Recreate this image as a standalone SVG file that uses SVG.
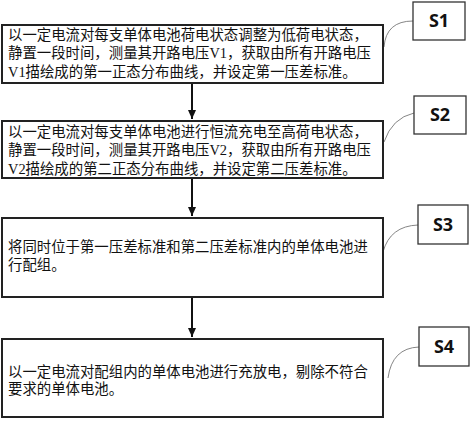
<svg xmlns="http://www.w3.org/2000/svg" width="474" height="424" viewBox="0 0 474 424">
<defs>
<style>
.box{fill:#fff;stroke:#222;stroke-width:2}
.lbl{fill:#fff;stroke:#333;stroke-width:1.3}
.t{font-family:"Liberation Serif","Noto Sans CJK SC",serif;font-size:14.4px;fill:#111}
.s{font-family:"Open Sans","Liberation Sans",sans-serif;font-size:18px;font-weight:bold;fill:#111;text-anchor:middle}
.ar{stroke:#111;stroke-width:2;fill:none}
.cv{stroke:#777;stroke-width:0.9;fill:none}
</style>
<marker id="ah" markerWidth="10" markerHeight="10" refX="9" refY="5" orient="auto" markerUnits="userSpaceOnUse">
<path d="M0,1 L9,5 L0,9 Z" fill="#111"/>
</marker>
</defs>
<rect width="474" height="424" fill="#fff"/>
<g id="connectors">
<line class="ar" x1="192" y1="83" x2="192" y2="119" marker-end="url(#ah)"/>
<line class="ar" x1="192" y1="178" x2="192" y2="216" marker-end="url(#ah)"/>
<line class="ar" x1="192" y1="297" x2="192" y2="337" marker-end="url(#ah)"/>
<path class="cv" d="M384,47 Q386,21 413,21"/>
<path class="cv" d="M384,142 Q392,118 414,113"/>
<path class="cv" d="M383,252 Q390,226 418,225"/>
<path class="cv" d="M388,378 Q392,348 419,347"/>
</g>
<g id="box1">
<rect class="box" x="2" y="25" width="381" height="58"/>
<text class="t" x="8" y="40">以一定电流对每支单体电池荷电状态调整为低荷电状态，</text>
<text class="t" x="8" y="58">静置一段时间，测量其开路电压V1，获取由所有开路电压</text>
<text class="t" x="8" y="77">V1描绘成的第一正态分布曲线，并设定第一压差标准。</text>
</g>
<g id="box2">
<rect class="box" x="2" y="121" width="381" height="57"/>
<text class="t" x="8" y="137">以一定电流对每支单体电池进行恒流充电至高荷电状态，</text>
<text class="t" x="8" y="155">静置一段时间，测量其开路电压V2，获取由所有开路电压</text>
<text class="t" x="8" y="173.5">V2描绘成的第二正态分布曲线，并设定第二压差标准。</text>
</g>
<g id="box3">
<rect class="box" x="2" y="218" width="381" height="79"/>
<text class="t" x="8" y="252">将同时位于第一压差标准和第二压差标准内的单体电池进</text>
<text class="t" x="8" y="270">行配组。</text>
</g>
<g id="box4">
<rect class="box" x="2" y="339" width="381" height="78"/>
<text class="t" x="8" y="377">以一定电流对配组内的单体电池进行充放电，剔除不符合</text>
<text class="t" x="8" y="394">要求的单体电池。</text>
</g>
<g id="S1">
<rect class="lbl" x="413" y="2" width="52" height="38"/>
<text class="s" x="439" y="27">S1</text>
</g>
<g id="S2">
<rect class="lbl" x="414" y="96" width="52" height="38"/>
<text class="s" x="440" y="121">S2</text>
</g>
<g id="S3">
<rect class="lbl" x="418" y="205" width="50" height="39"/>
<text class="s" x="443" y="231">S3</text>
</g>
<g id="S4">
<rect class="lbl" x="419" y="327" width="50" height="39"/>
<text class="s" x="444" y="353">S4</text>
</g>
</svg>
